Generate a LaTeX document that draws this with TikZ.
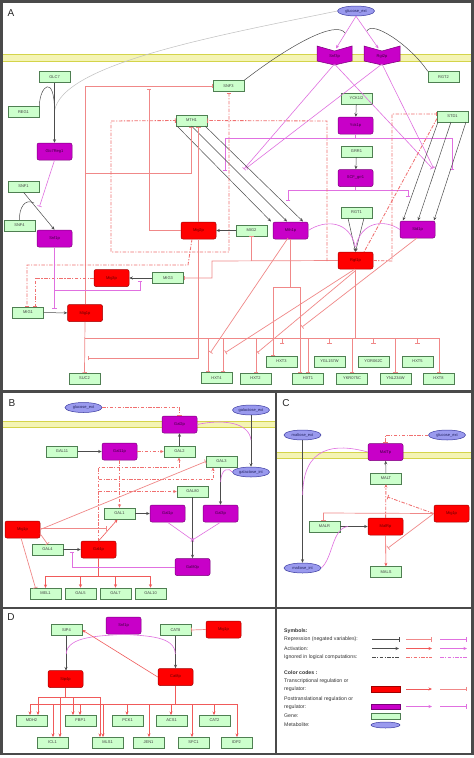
\documentclass[tikz,border=0pt]{standalone}
\usepackage{fontspec}
\setmainfont{Liberation Sans}
\usetikzlibrary{arrows.meta,shapes.geometric}
\definecolor{genefill}{HTML}{CCFFCC}
\definecolor{genebd}{HTML}{4F7F52}
\definecolor{tffill}{HTML}{FF0000}
\definecolor{tfbd}{HTML}{A00000}
\definecolor{tftext}{HTML}{600000}
\definecolor{ptfill}{HTML}{C800C8}
\definecolor{ptbd}{HTML}{7A007A}
\definecolor{pttext}{HTML}{3A003A}
\definecolor{metfill}{HTML}{9A9AEE}
\definecolor{metbd}{HTML}{3A3AA0}
\definecolor{pinkc}{HTML}{F08888}
\definecolor{pinkd}{HTML}{F07070}
\definecolor{redl}{HTML}{F05A5A}
\definecolor{redtip}{HTML}{FF0000}
\definecolor{magc}{HTML}{E070E0}
\definecolor{frame}{HTML}{4A4A4A}
\definecolor{membf}{HTML}{F4F4B4}
\definecolor{membl}{HTML}{D4D44A}
\newcommand\myNodeFont{\fontsize{4}{4.5}\selectfont}
\newcommand\myLegFont{\fontsize{5.2}{6}\selectfont}
\begin{document}
\begin{tikzpicture}[x=1pt,y=-1pt,
 gn/.style={draw=genebd,fill=genefill,line width=0.5pt,minimum width=31pt,minimum height=11pt,inner sep=0pt,font=\myNodeFont,text=black!75},
 tfn/.style={draw=tfbd,fill=tffill,rounded corners=2pt,line width=0.5pt,minimum width=35pt,minimum height=17pt,inner sep=0pt,font=\myNodeFont,text=tftext},
 ptn/.style={draw=ptbd,fill=ptfill,rounded corners=2pt,line width=0.5pt,minimum width=35pt,minimum height=17pt,inner sep=0pt,font=\myNodeFont,text=pttext},
 metn/.style={ellipse,draw=metbd,fill=metfill,line width=0.5pt,minimum width=37pt,minimum height=10pt,inner sep=0pt,font=\myNodeFont,text=metbd!60!black},
 recn/.style={inner sep=0pt,font=\myNodeFont,text=pttext},
 ddash/.style={dash pattern=on 3.5pt off 1.5pt on 1.2pt off 1.5pt},
 bkl/.style={draw=black!70,line width=0.5pt},
 bka/.style={bkl,-{Stealth[length=3.5pt,width=3pt]}},
 bkb/.style={bkl,-{Bar[width=4.5pt]}},
 bkd/.style={bkl,ddash},
 pk/.style={draw=pinkc,line width=0.7pt},
 pkb/.style={pk,-{Bar[width=4.5pt]}},
 pkd/.style={draw=pinkd,line width=0.85pt,ddash},
 pkdb/.style={pkd,-{Bar[width=4.5pt]}},
 mgl/.style={draw=magc,line width=0.6pt},
 mgb/.style={mgl,-{Bar[width=4.5pt]}},
 mga/.style={mgl,-{Stealth[length=3.5pt,width=3pt,fill=ptfill]}},
 mgd/.style={draw=magc,line width=0.85pt,ddash},
 rdl/.style={draw=redl,line width=0.6pt},
 rda/.style={draw=redl,line width=0.6pt,-{Stealth[length=3.5pt,width=3pt,fill=redtip]}},
 rdda/.style={draw=pinkd,line width=0.85pt,ddash,-{Stealth[length=3.5pt,width=3pt,fill=redtip]}},
 panel/.style={font=\fontsize{10}{10}\selectfont,text=black!85,inner sep=0pt},
 legt/.style={font=\myLegFont,text=black!80,anchor=west,inner sep=0pt},
 legb/.style={font=\myLegFont\bfseries,text=black!80,anchor=west,inner sep=0pt}
]
\useasboundingbox (0,0) rectangle (474,758);
\fill[white] (0,0) rectangle (474,758);
% membranes
\fill[membf] (3,54) rectangle (471,61);
\draw[membl,line width=0.8pt] (3,54) -- (471,54) (3,61) -- (471,61);
\fill[membf] (3,421.5) rectangle (276,427.5);
\draw[membl,line width=0.8pt] (3,421.5) -- (276,421.5) (3,427.5) -- (276,427.5);
\fill[membf] (276,452) rectangle (471,458);
\draw[membl,line width=0.8pt] (276,452) -- (471,452) (276,458) -- (471,458);
% panel letters
\node[panel] (lA) at (11,13) {A};
\node[panel] (lB) at (12,403) {B};
\node[panel] (lC) at (286,403) {C};
\node[panel] (lD) at (11,617) {D};

% ================= PANEL A =================
\node[metn] (glcext) at (356,11) {glucose\_ext};
\fill[ptfill,draw=ptbd,line width=0.5pt] (317,46) -- (334.5,51) -- (352,46) -- (352,61) -- (334.5,65) -- (317,61) -- cycle;
\node[recn] (snf3p) at (334.5,56.5) {Snf3p};
\fill[ptfill,draw=ptbd,line width=0.5pt] (364,46) -- (382,51) -- (400,46) -- (400,61) -- (382,65) -- (364,61) -- cycle;
\node[recn] (rgt2p) at (382,56.5) {Rgt2p};
\node[gn] (rgt2) at (443.5,77) {RGT2};
\node[gn] (snf3) at (228.5,86) {SNF3};
\node[gn] (glc7) at (54.5,77) {GLC7};
\node[gn] (reg1) at (23.5,112) {REG1};
\node[ptn] (glcreg) at (54.5,151.5) {Glc7Reg1};
\node[gn] (snf1) at (23.5,186.5) {SNF1};
\node[gn] (snf4) at (19.5,225.5) {SNF4};
\node[ptn] (snf1p) at (54.5,238.5) {Snf1p};
\node[gn] (mth1) at (191.5,120.5) {MTH1};
\node[gn] (mig2) at (251.5,230.5) {MIG2};
\node[tfn] (mig2p) at (198.5,230.5) {Mig2p};
\node[ptn] (mth1p) at (290.5,230.5) {Mth1p};
\node[gn] (yck) at (356.5,98.5) {YCK1/2};
\node[ptn] (yck1p) at (355.5,125.5) {Yck1p};
\node[gn] (grr1) at (356.5,151.5) {GRR1};
\node[ptn] (scf) at (355.5,178) {SCF\_grr1};
\node[gn] (std1) at (452.5,116.5) {STD1};
\node[gn] (rgt1) at (356.5,212.5) {RGT1};
\node[ptn] (std1p) at (417.5,229.5) {Std1p};
\node[tfn] (rgt1p) at (355.5,260.5) {Rgt1p};
\node[tfn] (mig3p) at (111.5,278) {Mig3p};
\node[gn] (mig3) at (168,278) {MIG3};
\node[gn] (mig1) at (28,312.5) {MIG1};
\node[tfn] (mig1p) at (85,313) {Mig1p};
\node[gn] (suc2) at (84.5,378.5) {SUC2};
\node[gn] (hxt4) at (216.5,378) {HXT4};
\node[gn] (hxt3) at (281.5,361.5) {HXT3};
\node[gn] (ygl) at (329.5,361.5) {YGL157W};
\node[gn] (yor) at (373.5,361.5) {YOR062C};
\node[gn] (hxt5) at (417.5,361.5) {HXT5};
\node[gn] (hxt2) at (255.5,378.5) {HXT2};
\node[gn] (hxt1) at (308,378.5) {HXT1};
\node[gn] (ykr) at (352,378.5) {YKR075C};
\node[gn] (ynl) at (395.5,378.5) {YNL234W};
\node[gn] (hxt8) at (438.5,378.5) {HXT8};

\coordinate (jglc) at (54.5,111);
\coordinate (jsnf) at (34,203);
\coordinate (jsnf3) at (345,33);
\coordinate (jrgt2) at (367,31);
\coordinate (jmth) at (244,169);
\coordinate (jstd) at (432,168);

% grey / black links at top
\draw[draw=black!25,line width=0.5pt] (glcext.west) .. controls (215,36) and (62,64) .. (jglc);
\draw[bka] (glc7) -- (glcreg);
\draw[bkl] (reg1.north east) .. controls (40,85) and (54.5,74) .. (jglc);
\draw[bka] (snf1.south) -- (snf1p.north);
\draw[bkl] (snf4.north) .. controls (19,208) and (25,198) .. (jsnf);
\draw[mgb] (glcreg.south) -- (39.5,206.5);
\draw[mga] (glcext.south) -- (336,48.5);
\draw[mga] (glcext.south) -- (378.5,48.5);
\draw[bkl] (snf3.north east) .. controls (290,45) and (336,20) .. (jsnf3);
\draw[bkl] (rgt2.north west) .. controls (410,45) and (372,20) .. (jrgt2);
% receptor effects
\draw[mgb] (334.5,64) -- (jmth);
\draw[mgb] (382,64) -- (246.5,168);
\draw[mgb] (334.5,64) -- (jstd);
\draw[mgb] (382,64) -- (433.5,168);
% kinases
\draw[bka] (yck) -- (yck1p);
\draw[bka] (grr1) -- (scf);
\draw[mgl] (yck1p.south) -- (355.5,138);
\draw[mgb] (355.5,138) -| (225,171);
\draw[mgb] (355.5,138) -| (452,170);
\draw[mgl] (scf.south) -- (355.5,190);
\draw[mgb] (355.5,190) -| (288,201);
\draw[mgb] (355.5,190) -| (408,197);
% MTH1 / STD1 translation
\draw[bka] (177,126) -- (271,221.5);
\draw[bka] (191.5,126) -- (287,221.5);
\draw[bka] (205,126) -- (303,221.5);
\draw[bka] (438,122) -- (403,220.5);
\draw[bka] (451,122) -- (418,220.5);
\draw[bka] (466,122) -- (434,220.5);
% RGT1
\draw[bka] (348,218) -- (rgt1p.north);
\draw[bka] (364,218) -- (rgt1p.north);
\draw[mgl] (mth1p.east) .. controls (326,219) and (350,221) .. (355.3,247);
\draw[mgl] (std1p.west) .. controls (385,219) and (361,221) .. (355.7,247);
% Mig1p lines
\draw[pkb] (mig1p.north) -- (85,86) -- (snf3.west);
\draw[pkb] (85,173) -| (191,126.5);
\draw[pkb] (mig1p.south) -- (suc2.north);
\draw[pk] (85,338) -- (439,338);
\draw[pkb] (208,338) -- (208,372);
\draw[pkb] (223,338) -- (223,372);
\draw[pkb] (256,338) -- (256,372.5);
\draw[pkb] (282,338) -- (282,344);
\draw[pkb] (329.5,338) -- (329.5,344);
\draw[pkb] (373.5,338) -- (373.5,344);
\draw[pkb] (417.5,338) -- (417.5,344);
\draw[pkb] (308,338) -- (308,372.5);
\draw[pkb] (352,338) -- (352,372.5);
\draw[pkb] (395.5,338) -- (395.5,372.5);
\draw[pkb] (439,338) -- (439,372.5);
% Rgt1p lines
\draw[pk] (rgt1p.south) -- (355.5,338);
\draw[pkb] (rgt1p.west) -- (212,261) -- (212,278) -- (mig3.east);
\draw[pkb] (251.5,261) -- (mig2.south);
\draw[pkdb] (327,261) -- (327,121) -- (mth1.east);
\draw[pkdb] (rgt1p.east) -- (392,261) -- (392,114) -- (437,114);
\draw[pkd] (437,118.5) -- (364,252);
% SNF3-MTH1 ignored path
\draw[pkd,{Bar[width=4.5pt]}-{Bar[width=4.5pt]}] (229,92.5) -- (229,252) -- (111,252) -- (111,121) -- (mth1.west);
% Mig2p lines
\draw[pkb] (mig2p.west) -- (149,230.5) -- (149,88.5);
\draw[pkb] (mig2p.north) -- (198.5,126.5);
\draw[pkb] (mig2p.south) -- (198.5,358) -- (88,358);
\draw[pkdb] (192,239) -- (188,265) -- (27,265) -- (27,306.5);
\draw[pkdb] (mig3p.west) -- (35,278) -- (35,306.5);
% translation arrows
\draw[bka] (mig2) -- (mig2p);
\draw[bka] (mig3) -- (mig3p);
\draw[bka] (mig1) -- (mig1p);
% Snf1p effects
\draw[mgb] (snf1p.south) -- (54.5,309);
\draw[mgb] (54.5,290) -- (140,290) -- (140,281);
% Mth1p / Std1p on HXT
\draw[pk] (mth1p.south) -- (290.5,287);
\draw[pk] (273,287) -- (300,287);
\draw[pkb] (273,287) -- (273,356);
\draw[pkb] (300,287) -- (300,372.5);
\draw[pkb] (288,238) -- (210.5,352.5);
\draw[pkb] (355,269) -- (225.5,352.5);
\draw[pkb] (355,271) -- (257.5,352.5);
\draw[pkb] (417,238) -- (302,327);

% ================= PANEL B =================
\node[metn] (glcextB) at (83.5,407.5) {glucose\_ext};
\node[metn] (galext) at (251,410) {galactose\_ext};
\node[ptn] (gal2p) at (179.5,424.5) {Gal2p};
\node[gn] (gal11) at (62,451.5) {GAL11};
\node[ptn] (gal11p) at (119.5,451.5) {Gal11p};
\node[gn] (gal2) at (179.5,451.5) {GAL2};
\node[gn] (gal3) at (221.5,461.5) {GAL3};
\node[metn] (galint) at (251,472) {galactose\_int};
\node[gn] (gal80) at (192.5,491.5) {GAL80};
\node[gn] (gal1) at (119.5,513.5) {GAL1};
\node[ptn] (gal1p) at (167.5,513.5) {Gal1p};
\node[ptn] (gal3p) at (220.5,513.5) {Gal3p};
\node[tfn] (mig1pB) at (22.5,529.5) {Mig1p};
\node[gn] (gal4) at (47.5,549.5) {GAL4};
\node[tfn] (gal4p) at (98.5,549.5) {Gal4p};
\node[ptn] (gal80p) at (192.5,567) {Gal80p};
\node[gn] (mel1) at (45.5,593.5) {MEL1};
\node[gn] (gal5) at (80.5,593.5) {GAL5};
\node[gn] (gal7) at (115.5,593.5) {GAL7};
\node[gn] (gal10) at (150.5,593.5) {GAL10};

\draw[pkdb] (glcextB.east) -| (179.5,415.5);
\draw[bka] (galext) -- (galint);
\draw[mgl] (gal2p.east) .. controls (222,419) and (249,422) .. (251,440);
\draw[bka] (gal11) -- (gal11p);
\draw[rdda] (gal11p) -- (gal2);
\draw[bka] (gal2) -- (gal2p);
\draw[rdda] (gal11p.south) -- (gal1.north);
\draw[rdda] (98.5,541) -- (98.5,467) -- (179,467) -- (179,457.5);
\draw[rdda] (98.5,479) -- (213,479) -- (213,467.5);
\draw[rdda] (98.5,491.5) -- (gal80.west);
\draw[rda] (98.5,541) -- (117.5,519.5);
\draw[rdl] (gal4p.south) -- (98.5,576);
\draw[rdl] (45.5,576) -- (150.5,576);
\draw[pkb] (21,538) -- (35.5,588);
\draw[rda] (45.5,576) -- (45.5,588);
\draw[rda] (80.5,576) -- (gal5.north);
\draw[rda] (115.5,576) -- (gal7.north);
\draw[rda] (150.5,576) -- (gal10.north);
\draw[bka] (220.5,467) -- (gal3p.north);
\draw[mgl] (galint.west) .. controls (230,468) and (221,467) .. (220.7,482);
\draw[bka] (gal1) -- (gal1p);
\draw[bka] (gal80) -- (gal80p);
\draw[mgb] (gal1p.south) -- (192.5,540);
\draw[mgb] (gal3p.south) -- (192.5,540);
\draw[mgb] (gal80p.west) -| (72,552);
\draw[bka] (gal4) -- (gal4p);
\draw[pkb] (mig1pB.east) -- (gal3.west);
\draw[pkb] (40,528.5) -- (107,528.5);
\draw[pkb] (40,533.5) -- (47.5,544);

% ================= PANEL C =================
\node[metn] (maltext) at (302.5,435) {maltose\_ext};
\node[metn] (glcextC) at (447,435) {glucose\_ext};
\node[ptn] (maltp) at (385.5,452) {MalTp};
\node[gn] (malt) at (386,478.5) {MALT};
\node[tfn] (mig1pC) at (451.5,513.5) {Mig1p};
\node[gn] (malr) at (324.5,526.5) {MALR};
\node[tfn] (malrp) at (385.5,526.5) {MalRp};
\node[metn] (maltint) at (302.5,568) {maltose\_int};
\node[gn] (mals) at (386,572) {MALS};

\draw[bka] (maltext) -- (maltint);
\draw[mgl] (maltp.west) .. controls (335,443) and (303,446) .. (302.7,495);
\draw[pkdb] (glcextC.west) -| (385.5,443);
\draw[bka] (malt) -- (maltp);
\draw[rdda] (malrp) -- (malt);
\draw[pkdb] (mig1pC.west) -- (387.5,497);
\draw[pkb] (mig1pC.west) -- (323.5,513) -- (323.5,520.5);
\draw[pkb] (mig1pC.west) -- (388,548);
\draw[bka] (malr) -- (malrp);
\draw[mgl] (maltint.east) .. controls (333,558) and (332,528) .. (348,526.5);
\draw[rda] (malrp) -- (mals);

% ================= PANEL D =================
\node[gn] (sip4) at (66.5,630) {SIP4};
\node[ptn] (snf1pD) at (123.5,625.5) {Snf1p};
\node[gn] (cat8) at (175.5,630) {CAT8};
\node[tfn] (mig1pD) at (223.5,629.5) {Mig1p};
\node[tfn] (sip4p) at (65.5,679) {Sip4p};
\node[tfn] (cat8p) at (175.5,677) {Cat8p};
\node[gn] (mdh2) at (31.5,720.5) {MDH2};
\node[gn] (fbp1) at (80.5,720.5) {FBP1};
\node[gn] (pck1) at (127.5,720.5) {PCK1};
\node[gn] (acs1) at (171.5,720.5) {ACS1};
\node[gn] (cat2) at (214.5,720.5) {CAT2};
\node[gn] (icl1) at (52.5,742.5) {ICL1};
\node[gn] (mls1) at (107.5,742.5) {MLS1};
\node[gn] (jen1) at (148.5,742.5) {JEN1};
\node[gn] (sfc1) at (193.5,742.5) {SFC1};
\node[gn] (idp2) at (236.5,742.5) {IDP2};

\draw[bka] (66,635.5) -- (66,670.5);
\draw[bka] (cat8) -- (cat8p);
\draw[mgl] (snf1pD.south) .. controls (100,636) and (67,636) .. (66.2,654);
\draw[mgl] (snf1pD.south) .. controls (147,636) and (175,636) .. (175.3,654);
\draw[pkb] (mig1pD.west) -- (cat8.east);
\draw[rda] (cat8p.west) -- (sip4.east);
\draw[rdl] (sip4p.south) -- (65.5,697);
\draw[rdl] (38,697) -- (100,697);
\draw[rda] (38,697) -- (38,715);
\draw[rda] (60,697) -- (60,737);
\draw[rda] (73,697) -- (73,715);
\draw[rda] (100,697) -- (100,737);
\draw[rdl] (cat8p.south) -- (175.5,704);
\draw[rdl] (30,704) -- (237,704);
\draw[rda] (30,704) -- (30,715);
\draw[rda] (53,704) -- (53,737);
\draw[rda] (80,704) -- (80,715);
\draw[rda] (103,704) -- (103,737);
\draw[rda] (127,704) -- (127,715);
\draw[rda] (149,704) -- (149,737);
\draw[rda] (171,704) -- (171,715);
\draw[rda] (192,704) -- (192,737);
\draw[rda] (214,704) -- (214,715);
\draw[rda] (237,704) -- (237,737);

% ================= LEGEND =================
\node[legb] (sym) at (284,631) {Symbols:};
\node[legt] (rep) at (284,639.5) {Repression (negated variables):};
\node[legt] (act) at (284,648.5) {Activation:};
\node[legt] (ign) at (284,657) {Ignored in logical computations:};
\node[legb] (cc) at (284,673) {Color codes :};
\node[legt] (tr1) at (284,681) {Transcriptional regulation or};
\node[legt] (tr2) at (284,689) {regulator:};
\node[legt] (po1) at (284,699) {Posttranslational regulation or};
\node[legt] (po2) at (284,707) {regulator:};
\node[legt] (gen) at (284,715.5) {Gene:};
\node[legt] (met) at (284,725) {Metabolite:};
\coordinate (r1a) at (372,639.5); \coordinate (r1b) at (399,639.5);
\coordinate (r2a) at (406,639.5); \coordinate (r2b) at (432,639.5);
\coordinate (r3a) at (440,639.5); \coordinate (r3b) at (467,639.5);
\draw[bkb] (r1a) -- (r1b);
\draw[pkb] (r2a) -- (r2b);
\draw[mgb] (r3a) -- (r3b);
\coordinate (a1a) at (372,648.5); \coordinate (a1b) at (399,648.5);
\coordinate (a2a) at (406,648.5); \coordinate (a2b) at (432,648.5);
\coordinate (a3a) at (440,648.5); \coordinate (a3b) at (467,648.5);
\draw[bka] (a1a) -- (a1b);
\draw[rda] (a2a) -- (a2b);
\draw[mga] (a3a) -- (a3b);
\coordinate (i1a) at (372,657); \coordinate (i1b) at (399,657);
\coordinate (i2a) at (406,657); \coordinate (i2b) at (432,657);
\coordinate (i3a) at (440,657); \coordinate (i3b) at (467,657);
\draw[bkd] (i1a) -- (i1b);
\draw[pkd] (i2a) -- (i2b);
\draw[mgd] (i3a) -- (i3b);
\node[draw=tfbd,fill=tffill,line width=0.5pt,minimum width=29pt,minimum height=6pt,inner sep=0pt] (ltf) at (385.5,689) {};
\coordinate (t1a) at (406,689); \coordinate (t1b) at (432,689);
\coordinate (t2a) at (440,689); \coordinate (t2b) at (467,689);
\draw[rda] (t1a) -- (t1b);
\draw[pkb] (t2a) -- (t2b);
\node[draw=ptbd,fill=ptfill,line width=0.5pt,minimum width=29pt,minimum height=5.5pt,inner sep=0pt] (lpt) at (385.5,706.5) {};
\coordinate (p1a) at (406,706.5); \coordinate (p1b) at (432,706.5);
\coordinate (p2a) at (440,706.5); \coordinate (p2b) at (467,706.5);
\draw[mga] (p1a) -- (p1b);
\draw[mgb] (p2a) -- (p2b);
\node[draw=genebd,fill=genefill,line width=0.5pt,minimum width=29pt,minimum height=6pt,inner sep=0pt] (lgn) at (385.5,716) {};
\node[ellipse,draw=metbd,fill=metfill,line width=0.5pt,minimum width=29pt,minimum height=6pt,inner sep=0pt] (lmet) at (385.5,725) {};

% ================= FRAMES =================
\draw[frame,line width=3pt] (1.5,1.5) rectangle (472.5,391);
\draw[frame,line width=2.5pt] (1.5,391) rectangle (276,608);
\draw[frame,line width=2.5pt] (276,391) rectangle (472.5,608);
\draw[frame,line width=2.5pt] (1.5,608) rectangle (276,754);
\draw[frame,line width=2.5pt] (276,608) rectangle (472.5,754);
\end{tikzpicture}
\end{document}
